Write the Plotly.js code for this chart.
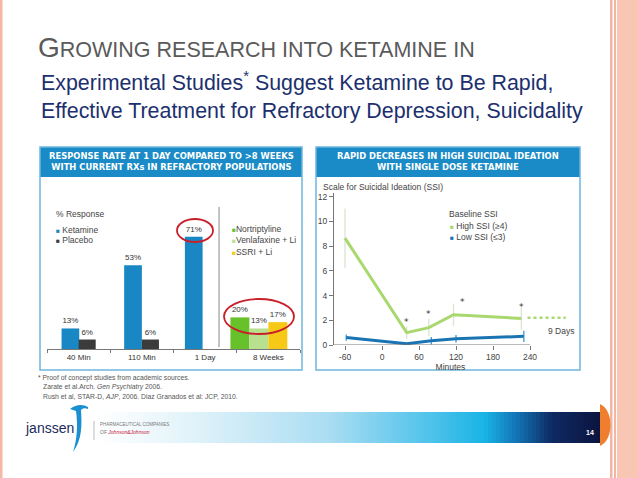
<!DOCTYPE html>
<html><head><meta charset="utf-8">
<script src="https://cdn.plot.ly/plotly-3.0.1.min.js"></script>
<style>html,body{margin:0;padding:0;background:#fff;overflow:hidden}#chart{width:638px;height:478px}</style>
</head><body><div id="chart"></div>
<script>
// ---------- Left chart: % response ----------
const responseCategories = ['40 Min', '110 Min', '1 Day', '8 Weeks'];
const ketamineCats = ['40 Min', '110 Min', '1 Day'];
const ketamineValues = [13, 53, 71];
const placeboCats = ['40 Min', '110 Min'];
const placeboValues = [6, 6];
const currentRxNames = ['Nortriptyline', 'Venlafaxine + Li', 'SSRI + Li'];
const currentRxValues = [20, 13, 17];
const currentRxCat = '8 Weeks';

// ---------- Right chart: SSI over minutes ----------
const highMinutes = [-60, 40, 76, 116, 226];
const highSSI = [8.65, 1.0, 1.4, 2.45, 2.15];
const highErr = [2.4, 0.5, 0.7, 0.9, 0.9];
const lowMinutes = [-58, 40, 80, 120, 230];
const lowSSI = [0.6, 0.1, 0.35, 0.5, 0.7];
const lowErr = [0.25, 0, 0.3, 0.3, 0.45];
const nineDayMinutes = [236, 298];
const nineDaySSI = [2.2, 2.2];
const sigMinutes = [40, 76, 130, 226];
const sigSSI = [1.85, 2.5, 3.45, 3.1];
const minuteTicks = [-60, 0, 60, 120, 180, 240];
const minuteTickText = ['-60', '0', '60', '120', '180', '240'];
const ssiTicks = [0, 2, 4, 6, 8, 10, 12];

// ---------- helpers (pixel -> paper) ----------
const W = 638, H = 478;
const px = x => x / W;
const py = y => 1 - y / H;
const FONT = 'Liberation Sans, Arial, sans-serif';

const colKet = '#1a87c5', colPla = '#3b3b3b';
const rxColors = ['#66c12a', '#b8e08e', '#f6c917'];
const rxOffsets = [-0.6, -0.3, 0];
const colHigh = '#a9d86e', colLow = '#1a74b4';

const traces = [];
traces.push({
  type: 'bar', name: 'Ketamine', x: ketamineCats, y: ketamineValues,
  offset: [-0.27, -0.28, -0.32], width: 0.28, marker: {color: colKet},
  texttemplate: '%{y}%', textposition: 'outside', constraintext: 'none', cliponaxis: false,
  textfont: {family: FONT, size: 8, color: '#333'}, xaxis: 'x', yaxis: 'y', hoverinfo: 'skip'
});
traces.push({
  type: 'bar', name: 'Placebo', x: placeboCats, y: placeboValues,
  offset: 0, width: 0.27, marker: {color: colPla},
  texttemplate: '%{y}%', textposition: 'outside', constraintext: 'none', cliponaxis: false,
  textfont: {family: FONT, size: 8, color: '#333'}, xaxis: 'x', yaxis: 'y', hoverinfo: 'skip'
});
currentRxNames.forEach((n, i) => traces.push({
  type: 'bar', name: n, x: [currentRxCat], y: [currentRxValues[i]],
  offset: rxOffsets[i], width: 0.3, marker: {color: rxColors[i]},
  texttemplate: '%{y}%', textposition: 'outside', constraintext: 'none', cliponaxis: false,
  textfont: {family: FONT, size: 8, color: '#333'}, xaxis: 'x', yaxis: 'y', hoverinfo: 'skip'
}));

traces.push({
  type: 'scatter', mode: 'lines', name: 'High SSI (≥4)', x: highMinutes, y: highSSI,
  line: {color: colHigh, width: 3},
  error_y: {type: 'data', array: highErr, visible: true, color: '#d9e5cf', thickness: 1.3, width: 0},
  xaxis: 'x2', yaxis: 'y2', hoverinfo: 'skip'
});
traces.push({
  type: 'scatter', mode: 'lines', name: 'Low SSI (≤3)', x: lowMinutes, y: lowSSI,
  line: {color: colLow, width: 3},
  error_y: {type: 'data', array: lowErr, visible: true, color: '#3c9ad6', thickness: 1.3, width: 0},
  xaxis: 'x2', yaxis: 'y2', hoverinfo: 'skip'
});
traces.push({
  type: 'scatter', mode: 'lines', name: 'High SSI at 9 days', x: nineDayMinutes, y: nineDaySSI,
  line: {color: colHigh, width: 2.5, dash: 'dot'}, xaxis: 'x2', yaxis: 'y2', hoverinfo: 'skip'
});

// ---------- shapes ----------
const shapes = [];
shapes.push({type: 'rect', xref: 'paper', yref: 'paper', x0: 0, x1: px(2.5), y0: 0, y1: 1, fillcolor: '#f5b8a3', line: {width: 0}, layer: 'below'});
shapes.push({type: 'rect', xref: 'paper', yref: 'paper', x0: px(610), x1: px(612.5), y0: 0, y1: 1, fillcolor: '#f4b6a2', line: {width: 0}, layer: 'below'});
shapes.push({type: 'rect', xref: 'paper', yref: 'paper', x0: px(614), x1: px(616), y0: 0, y1: 1, fillcolor: '#f4b6a2', line: {width: 0}, layer: 'below'});
shapes.push({type: 'rect', xref: 'paper', yref: 'paper', x0: px(617), x1: 1, y0: 0, y1: 1, fillcolor: '#f9c6b4', line: {width: 0}, layer: 'below'});
[[40, 302], [316, 580]].forEach(([a, b]) => {
  shapes.push({type: 'rect', xref: 'paper', yref: 'paper', x0: px(a), x1: px(b), y0: py(177), y1: py(147), fillcolor: '#1a8bc6', line: {width: 0}, layer: 'below'});
  shapes.push({type: 'rect', xref: 'paper', yref: 'paper', x0: px(a), x1: px(b), y0: py(370), y1: py(147), line: {color: '#6db7dd', width: 1.5}, layer: 'below'});
});
shapes.push({type: 'line', xref: 'x', yref: 'paper', x0: 2.22, x1: 2.22, y0: py(347), y1: py(207), line: {color: '#888', width: 1}});
shapes.push({type: 'circle', xref: 'paper', yref: 'paper', x0: px(177), x1: px(213), y0: py(242), y1: py(219), line: {color: '#c8202a', width: 1.8}});
shapes.push({type: 'circle', xref: 'paper', yref: 'paper', x0: px(224), x1: px(294), y0: py(334), y1: py(299), line: {color: '#c8202a', width: 1.8}});
shapes.push({type: 'line', xref: 'x2', yref: 'y2', x0: -78, x1: 240, y0: 0, y1: 0, line: {color: '#777', width: 1}});

// footer gradient bar
const stops = [[96, [255,255,255]], [190, [226,243,250]], [330, [170,221,242]], [440, [70,192,234]], [485, [24,180,230]], [520, [18,110,175]], [552, [14,42,100]], [600, [12,20,62]]];
function gcol(x) {
  for (let i = 0; i < stops.length - 1; i++) {
    const [a, ca] = stops[i], [b, cb] = stops[i + 1];
    if (x >= a && x <= b) {
      const t = (x - a) / (b - a);
      return 'rgb(' + ca.map((v, k) => Math.round(v + (cb[k] - v) * t)).join(',') + ')';
    }
  }
  return 'rgb(12,20,62)';
}
const gx0 = 96, gx1 = 600, nSlices = 126;
for (let i = 0; i < nSlices; i++) {
  const a = gx0 + (gx1 - gx0) * i / nSlices, b = gx0 + (gx1 - gx0) * (i + 1) / nSlices + 0.6;
  shapes.push({type: 'rect', xref: 'paper', yref: 'paper', x0: px(a), x1: px(b), y0: py(443), y1: py(412), fillcolor: gcol((a + b) / 2), line: {width: 0}, layer: 'below'});
}
shapes.push({type: 'path', xref: 'paper', yref: 'paper',
  path: `M ${px(600)} ${py(404)} C ${px(614)} ${py(410)} ${px(614)} ${py(440)} ${px(600)} ${py(446)} Z`,
  fillcolor: '#ef7f2e', line: {width: 0}});
shapes.push({type: 'path', xref: 'paper', yref: 'paper',
  path: `M ${px(70)} ${py(409)} C ${px(76)} ${py(404)} ${px(83)} ${py(404)} ${px(88)} ${py(407)} L ${px(88)} ${py(409)} C ${px(85)} ${py(408)} ${px(83)} ${py(408)} ${px(81)} ${py(410)} C ${px(82)} ${py(425)} ${px(82)} ${py(440)} ${px(73)} ${py(452)} C ${px(77)} ${py(440)} ${px(78)} ${py(425)} ${px(76)} ${py(411)} C ${px(74)} ${py(410)} ${px(72)} ${py(410)} ${px(70)} ${py(409)} Z`,
  fillcolor: '#1b8fd0', line: {width: 0}});
shapes.push({type: 'line', xref: 'paper', yref: 'paper', x0: px(94), x1: px(94), y0: py(421), y1: py(440), line: {color: '#aaa', width: 0.8}});

// ---------- annotations ----------
const ann = [];
function A(o) { ann.push(Object.assign({xref: 'paper', yref: 'paper', showarrow: false, font: {family: FONT, size: 8, color: '#444'}}, o)); }
A({x: px(39), y: py(95), xanchor: 'left', yanchor: 'middle', align: 'left',
   text: 'Experimental Studies<sup>*</sup> Suggest Ketamine to Be Rapid,<br>Effective Treatment for Refractory Depression, Suicidality',
   font: {family: FONT, size: 21.4, color: '#1c2f6e'}});
A({x: px(171), y: py(162), xanchor: 'center', yanchor: 'middle',
   text: '<b>RESPONSE RATE AT 1 DAY COMPARED TO &gt;8 WEEKS<br>WITH CURRENT RXs IN REFRACTORY POPULATIONS</b>',
   font: {family: 'DejaVu Sans, sans-serif', size: 8.4, color: '#fff'}});
A({x: px(448), y: py(162), xanchor: 'center', yanchor: 'middle',
   text: '<b>RAPID DECREASES IN HIGH SUICIDAL IDEATION<br>WITH SINGLE DOSE KETAMINE</b>',
   font: {family: 'DejaVu Sans, sans-serif', size: 8.4, color: '#fff'}});
A({x: px(54), y: py(214), xanchor: 'left', yanchor: 'middle', text: '% Response', font: {family: FONT, size: 8.5, color: '#444'}});
[['Ketamine', colKet], ['Placebo', colPla]].forEach(([n, c], i) =>
  A({x: px(54), y: py(230 + 9.5 * i), xanchor: 'left', yanchor: 'middle',
     text: `<span style="color:${c};font-size:6.5px">■</span> ${n}`, font: {family: FONT, size: 8.5, color: '#444'}}));
currentRxNames.forEach((n, i) =>
  A({x: px(230), y: py(229 + 11.5 * i), xanchor: 'left', yanchor: 'middle',
     text: `<span style="color:${rxColors[i]};font-size:6.5px">■</span>${n}`, font: {family: FONT, size: 8.5, color: '#444'}}));
A({x: px(321), y: py(187), xanchor: 'left', yanchor: 'middle', text: 'Scale for Suicidal Ideation (SSI)', font: {family: FONT, size: 8.5, color: '#444'}});
A({x: px(447), y: py(214), xanchor: 'left', yanchor: 'middle', text: 'Baseline SSI', font: {family: FONT, size: 8.5, color: '#444'}});
[[traces[5].name, colHigh], [traces[6].name, colLow]].forEach(([n, c], i) =>
  A({x: px(448), y: py(226 + 11 * i), xanchor: 'left', yanchor: 'middle',
     text: `<span style="color:${c};font-size:6.5px">■</span> ${n}`, font: {family: FONT, size: 8.5, color: '#444'}}));
A({x: px(561), y: py(331), xanchor: 'center', yanchor: 'middle', text: '9 Days', font: {family: FONT, size: 8.5, color: '#444'}});
sigMinutes.forEach((m, i) => A({xref: 'x2', yref: 'y2', x: m, y: sigSSI[i], xanchor: 'center', yanchor: 'middle', text: '*', font: {family: 'DejaVu Sans, sans-serif', size: 9, color: '#333'}}));
A({x: px(36), y: py(378), xanchor: 'left', yanchor: 'middle', text: '* Proof of concept studies from academic sources.', font: {family: FONT, size: 6.8, color: '#555'}});
A({x: px(41), y: py(387), xanchor: 'left', yanchor: 'middle', text: 'Zarate et al.Arch. <i>Gen Psychiatry</i> 2006.', font: {family: FONT, size: 6.8, color: '#555'}});
A({x: px(41), y: py(396), xanchor: 'left', yanchor: 'middle', text: 'Rush et al, STAR-D, <i>AJP</i>, 2006. Diaz Granados et al: JCP, 2010.', font: {family: FONT, size: 6.8, color: '#555'}});
A({x: px(23), y: py(428), xanchor: 'left', yanchor: 'middle', text: 'janssen', font: {family: FONT, size: 14, color: '#1d2c5c'}});
A({x: px(98), y: py(424), xanchor: 'left', yanchor: 'middle', text: 'PHARMACEUTICAL COMPANIES', font: {family: FONT, size: 4.5, color: '#777'}});
A({x: px(98), y: py(432), xanchor: 'left', yanchor: 'middle', text: 'OF <i><span style="color:#c8102e">Johnson&amp;Johnson</span></i>', font: {family: FONT, size: 5, color: '#777'}});
A({x: px(590), y: py(432), xanchor: 'center', yanchor: 'middle', text: '<b>14</b>', font: {family: FONT, size: 7, color: '#fff'}});

const layout = {
  width: W, height: H, margin: {l: 0, r: 0, t: 0, b: 0},
  paper_bgcolor: '#fff', plot_bgcolor: 'rgba(0,0,0,0)',
  showlegend: false, barmode: 'overlay',
  font: {family: FONT, color: '#444'},
  title: {
    text: '<span style="font-size:28px">G</span>ROWING RESEARCH INTO KETAMINE IN',
    xref: 'paper', x: px(38), xanchor: 'left', yref: 'container', y: py(49), yanchor: 'middle',
    font: {family: FONT, size: 21.5, color: '#5a5a5a'}
  },
  xaxis: {
    domain: [px(47), px(300)], type: 'category', categoryorder: 'array', categoryarray: responseCategories,
    range: [-0.5, 3.5], anchor: 'y', showline: true, linecolor: '#777', linewidth: 1,
    ticks: 'outside', tickson: 'boundaries', ticklen: 3, tickcolor: '#777', showgrid: false,
    tickfont: {family: FONT, size: 8, color: '#333'}, fixedrange: true
  },
  yaxis: {domain: [py(349), py(191)], range: [0, 100], visible: false, anchor: 'x', fixedrange: true},
  xaxis2: {
    domain: [px(333.9), px(567)], range: [-78, 300], anchor: 'y2', tickvals: minuteTicks, ticktext: minuteTickText,
    ticks: 'outside', ticklen: 4, tickcolor: '#777', showline: false, zeroline: false, showgrid: false,
    tickfont: {family: FONT, size: 8.5, color: '#444'},
    title: {text: 'Minutes', font: {family: FONT, size: 8.5, color: '#444'}, standoff: 0}, fixedrange: true
  },
  yaxis2: {
    domain: [py(345), py(193)], range: [0, 12.3], anchor: 'x2', tickvals: ssiTicks,
    ticks: 'outside', ticklen: 4, tickcolor: '#777', showline: true, linecolor: '#777', linewidth: 1,
    zeroline: false, showgrid: false, tickfont: {family: FONT, size: 8.5, color: '#444'}, fixedrange: true
  },
  shapes: shapes, annotations: ann
};
Plotly.newPlot('chart', traces, layout, {displayModeBar: false, staticPlot: true});
</script></body></html>
